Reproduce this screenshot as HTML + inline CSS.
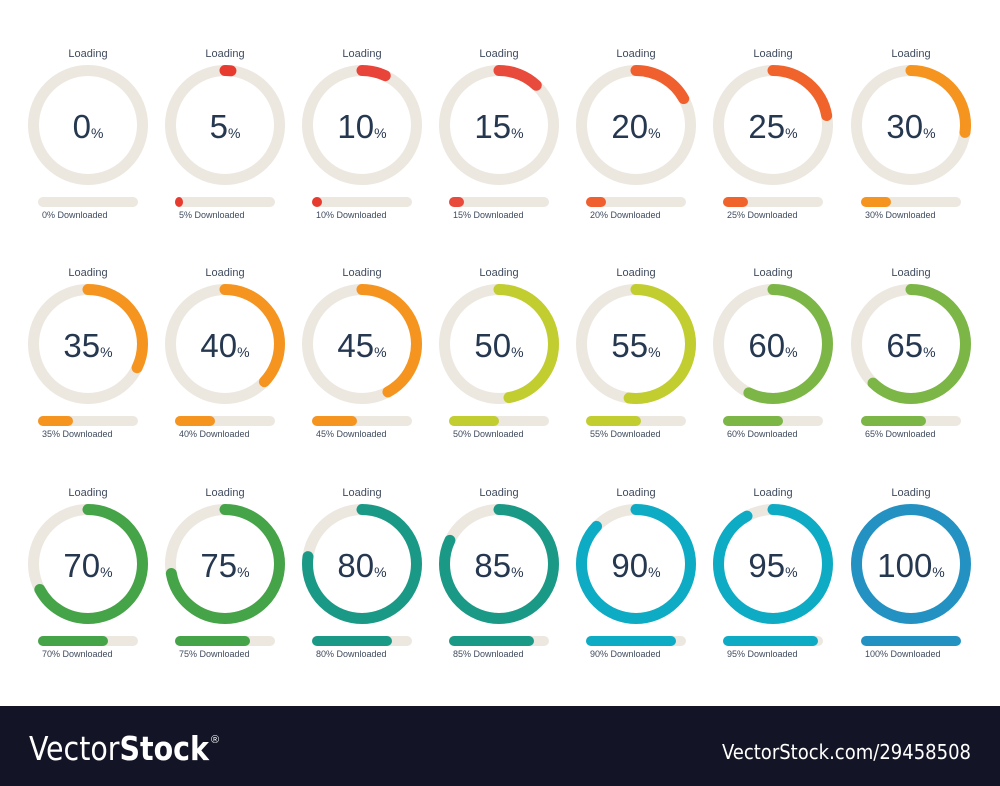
<!DOCTYPE html>
<html><head><meta charset="utf-8"><style>
html,body{margin:0;padding:0;background:#fff;}
svg{display:block;font-family:"Liberation Sans",sans-serif;}
.ld{font-size:11px;fill:#3f4b5e;text-anchor:middle}
.num{font-size:33px;fill:#263750;text-anchor:middle}
.pc{font-size:14px}
.dl{font-size:9px;fill:#3f4b5e}
.tr{fill:none;stroke:#ece7df;stroke-width:11}
.bt{fill:#ece7df}
</style></head><body>
<svg width="1000" height="786" viewBox="0 0 1000 786">
<rect width="1000" height="786" fill="#fff"/>
<!-- Row 1 -->
<g transform="translate(88,125)"><text class="ld" y="-68">Loading</text><circle class="tr" r="54.5"/><rect class="bt" x="-50" y="72" width="100" height="10" rx="5"/><text class="num" y="13">0<tspan class="pc">%</tspan></text><text class="dl" x="-46" y="93">0% Downloaded</text></g>
<g transform="translate(225,125)"><text class="ld" y="-68">Loading</text><circle class="tr" r="54.5"/><circle r="54.5" fill="none" stroke="#e63b2e" stroke-width="11" stroke-linecap="round" stroke-dasharray="6 400" transform="rotate(-90)"/><rect class="bt" x="-50" y="72" width="100" height="10" rx="5"/><rect x="-50" y="72" width="8" height="10" rx="5" fill="#e63b2e"/><text class="num" y="13">5<tspan class="pc">%</tspan></text><text class="dl" x="-46" y="93">5% Downloaded</text></g>
<g transform="translate(362,125)"><text class="ld" y="-68">Loading</text><circle class="tr" r="54.5"/><circle r="54.5" fill="none" stroke="#e8443a" stroke-width="11" stroke-linecap="round" stroke-dasharray="24 400" transform="rotate(-90)"/><rect class="bt" x="-50" y="72" width="100" height="10" rx="5"/><rect x="-50" y="72" width="10" height="10" rx="5" fill="#e63b2e"/><text class="num" y="13">10<tspan class="pc">%</tspan></text><text class="dl" x="-46" y="93">10% Downloaded</text></g>
<g transform="translate(499,125)"><text class="ld" y="-68">Loading</text><circle class="tr" r="54.5"/><circle r="54.5" fill="none" stroke="#e84a3c" stroke-width="11" stroke-linecap="round" stroke-dasharray="41 400" transform="rotate(-90)"/><rect class="bt" x="-50" y="72" width="100" height="10" rx="5"/><rect x="-50" y="72" width="15" height="10" rx="5" fill="#e84a3c"/><text class="num" y="13">15<tspan class="pc">%</tspan></text><text class="dl" x="-46" y="93">15% Downloaded</text></g>
<g transform="translate(636,125)"><text class="ld" y="-68">Loading</text><circle class="tr" r="54.5"/><circle r="54.5" fill="none" stroke="#f05f2e" stroke-width="11" stroke-linecap="round" stroke-dasharray="58 400" transform="rotate(-90)"/><rect class="bt" x="-50" y="72" width="100" height="10" rx="5"/><rect x="-50" y="72" width="20" height="10" rx="5" fill="#f05f2e"/><text class="num" y="13">20<tspan class="pc">%</tspan></text><text class="dl" x="-46" y="93">20% Downloaded</text></g>
<g transform="translate(773,125)"><text class="ld" y="-68">Loading</text><circle class="tr" r="54.5"/><circle r="54.5" fill="none" stroke="#f0642c" stroke-width="11" stroke-linecap="round" stroke-dasharray="76 400" transform="rotate(-90)"/><rect class="bt" x="-50" y="72" width="100" height="10" rx="5"/><rect x="-50" y="72" width="25" height="10" rx="5" fill="#f0642c"/><text class="num" y="13">25<tspan class="pc">%</tspan></text><text class="dl" x="-46" y="93">25% Downloaded</text></g>
<g transform="translate(911,125)"><text class="ld" y="-68">Loading</text><circle class="tr" r="54.5"/><circle r="54.5" fill="none" stroke="#f5941f" stroke-width="11" stroke-linecap="round" stroke-dasharray="93 400" transform="rotate(-90)"/><rect class="bt" x="-50" y="72" width="100" height="10" rx="5"/><rect x="-50" y="72" width="30" height="10" rx="5" fill="#f5941f"/><text class="num" y="13">30<tspan class="pc">%</tspan></text><text class="dl" x="-46" y="93">30% Downloaded</text></g>
<!-- Row 2 -->
<g transform="translate(88,344)"><text class="ld" y="-68">Loading</text><circle class="tr" r="54.5"/><circle r="54.5" fill="none" stroke="#f5941f" stroke-width="11" stroke-linecap="round" stroke-dasharray="110 400" transform="rotate(-90)"/><rect class="bt" x="-50" y="72" width="100" height="10" rx="5"/><rect x="-50" y="72" width="35" height="10" rx="5" fill="#f5941f"/><text class="num" y="13">35<tspan class="pc">%</tspan></text><text class="dl" x="-46" y="93">35% Downloaded</text></g>
<g transform="translate(225,344)"><text class="ld" y="-68">Loading</text><circle class="tr" r="54.5"/><circle r="54.5" fill="none" stroke="#f5941f" stroke-width="11" stroke-linecap="round" stroke-dasharray="127 400" transform="rotate(-90)"/><rect class="bt" x="-50" y="72" width="100" height="10" rx="5"/><rect x="-50" y="72" width="40" height="10" rx="5" fill="#f5941f"/><text class="num" y="13">40<tspan class="pc">%</tspan></text><text class="dl" x="-46" y="93">40% Downloaded</text></g>
<g transform="translate(362,344)"><text class="ld" y="-68">Loading</text><circle class="tr" r="54.5"/><circle r="54.5" fill="none" stroke="#f5941f" stroke-width="11" stroke-linecap="round" stroke-dasharray="144 400" transform="rotate(-90)"/><rect class="bt" x="-50" y="72" width="100" height="10" rx="5"/><rect x="-50" y="72" width="45" height="10" rx="5" fill="#f5941f"/><text class="num" y="13">45<tspan class="pc">%</tspan></text><text class="dl" x="-46" y="93">45% Downloaded</text></g>
<g transform="translate(499,344)"><text class="ld" y="-68">Loading</text><circle class="tr" r="54.5"/><circle r="54.5" fill="none" stroke="#c2cd30" stroke-width="11" stroke-linecap="round" stroke-dasharray="161 400" transform="rotate(-90)"/><rect class="bt" x="-50" y="72" width="100" height="10" rx="5"/><rect x="-50" y="72" width="50" height="10" rx="5" fill="#c2cd30"/><text class="num" y="13">50<tspan class="pc">%</tspan></text><text class="dl" x="-46" y="93">50% Downloaded</text></g>
<g transform="translate(636,344)"><text class="ld" y="-68">Loading</text><circle class="tr" r="54.5"/><circle r="54.5" fill="none" stroke="#c2cd30" stroke-width="11" stroke-linecap="round" stroke-dasharray="178 400" transform="rotate(-90)"/><rect class="bt" x="-50" y="72" width="100" height="10" rx="5"/><rect x="-50" y="72" width="55" height="10" rx="5" fill="#c2cd30"/><text class="num" y="13">55<tspan class="pc">%</tspan></text><text class="dl" x="-46" y="93">55% Downloaded</text></g>
<g transform="translate(773,344)"><text class="ld" y="-68">Loading</text><circle class="tr" r="54.5"/><circle r="54.5" fill="none" stroke="#7cb646" stroke-width="11" stroke-linecap="round" stroke-dasharray="196 400" transform="rotate(-90)"/><rect class="bt" x="-50" y="72" width="100" height="10" rx="5"/><rect x="-50" y="72" width="60" height="10" rx="5" fill="#7cb646"/><text class="num" y="13">60<tspan class="pc">%</tspan></text><text class="dl" x="-46" y="93">60% Downloaded</text></g>
<g transform="translate(911,344)"><text class="ld" y="-68">Loading</text><circle class="tr" r="54.5"/><circle r="54.5" fill="none" stroke="#7cb646" stroke-width="11" stroke-linecap="round" stroke-dasharray="213 400" transform="rotate(-90)"/><rect class="bt" x="-50" y="72" width="100" height="10" rx="5"/><rect x="-50" y="72" width="65" height="10" rx="5" fill="#7cb646"/><text class="num" y="13">65<tspan class="pc">%</tspan></text><text class="dl" x="-46" y="93">65% Downloaded</text></g>
<!-- Row 3 -->
<g transform="translate(88,564)"><text class="ld" y="-68">Loading</text><circle class="tr" r="54.5"/><circle r="54.5" fill="none" stroke="#45a348" stroke-width="11" stroke-linecap="round" stroke-dasharray="230 400" transform="rotate(-90)"/><rect class="bt" x="-50" y="72" width="100" height="10" rx="5"/><rect x="-50" y="72" width="70" height="10" rx="5" fill="#45a348"/><text class="num" y="13">70<tspan class="pc">%</tspan></text><text class="dl" x="-46" y="93">70% Downloaded</text></g>
<g transform="translate(225,564)"><text class="ld" y="-68">Loading</text><circle class="tr" r="54.5"/><circle r="54.5" fill="none" stroke="#45a348" stroke-width="11" stroke-linecap="round" stroke-dasharray="247 400" transform="rotate(-90)"/><rect class="bt" x="-50" y="72" width="100" height="10" rx="5"/><rect x="-50" y="72" width="75" height="10" rx="5" fill="#45a348"/><text class="num" y="13">75<tspan class="pc">%</tspan></text><text class="dl" x="-46" y="93">75% Downloaded</text></g>
<g transform="translate(362,564)"><text class="ld" y="-68">Loading</text><circle class="tr" r="54.5"/><circle r="54.5" fill="none" stroke="#1a9a86" stroke-width="11" stroke-linecap="round" stroke-dasharray="264 400" transform="rotate(-90)"/><rect class="bt" x="-50" y="72" width="100" height="10" rx="5"/><rect x="-50" y="72" width="80" height="10" rx="5" fill="#1a9a86"/><text class="num" y="13">80<tspan class="pc">%</tspan></text><text class="dl" x="-46" y="93">80% Downloaded</text></g>
<g transform="translate(499,564)"><text class="ld" y="-68">Loading</text><circle class="tr" r="54.5"/><circle r="54.5" fill="none" stroke="#1a9a86" stroke-width="11" stroke-linecap="round" stroke-dasharray="281 400" transform="rotate(-90)"/><rect class="bt" x="-50" y="72" width="100" height="10" rx="5"/><rect x="-50" y="72" width="85" height="10" rx="5" fill="#1a9a86"/><text class="num" y="13">85<tspan class="pc">%</tspan></text><text class="dl" x="-46" y="93">85% Downloaded</text></g>
<g transform="translate(636,564)"><text class="ld" y="-68">Loading</text><circle class="tr" r="54.5"/><circle r="54.5" fill="none" stroke="#0eabc5" stroke-width="11" stroke-linecap="round" stroke-dasharray="298 400" transform="rotate(-90)"/><rect class="bt" x="-50" y="72" width="100" height="10" rx="5"/><rect x="-50" y="72" width="90" height="10" rx="5" fill="#0eabc5"/><text class="num" y="13">90<tspan class="pc">%</tspan></text><text class="dl" x="-46" y="93">90% Downloaded</text></g>
<g transform="translate(773,564)"><text class="ld" y="-68">Loading</text><circle class="tr" r="54.5"/><circle r="54.5" fill="none" stroke="#0eabc5" stroke-width="11" stroke-linecap="round" stroke-dasharray="315 400" transform="rotate(-90)"/><rect class="bt" x="-50" y="72" width="100" height="10" rx="5"/><rect x="-50" y="72" width="95" height="10" rx="5" fill="#0eabc5"/><text class="num" y="13">95<tspan class="pc">%</tspan></text><text class="dl" x="-46" y="93">95% Downloaded</text></g>
<g transform="translate(911,564)"><text class="ld" y="-68">Loading</text><circle r="54.5" fill="none" stroke="#2392c3" stroke-width="11"/><rect x="-50" y="72" width="100" height="10" rx="5" fill="#2392c3"/><text class="num" y="13">100<tspan class="pc">%</tspan></text><text class="dl" x="-46" y="93">100% Downloaded</text></g>
<!-- Footer -->
<rect x="0" y="706" width="1000" height="80" fill="#131425"/>
<text x="29" y="760" fill="#fff" font-size="33" font-family="'DejaVu Sans Condensed','Liberation Sans Narrow','Liberation Sans',sans-serif" textLength="180" lengthAdjust="spacingAndGlyphs"><tspan font-weight="300">Vector</tspan><tspan font-weight="bold">Stock</tspan></text>
<text x="211" y="743" fill="#fff" font-size="11" font-family="'Liberation Sans',sans-serif">®</text>
<text x="971" y="759" fill="#fff" font-size="20" text-anchor="end" font-family="'DejaVu Sans Condensed','Liberation Sans Narrow','Liberation Sans',sans-serif" textLength="249" lengthAdjust="spacingAndGlyphs">VectorStock.com/29458508</text>
</svg>
</body></html>
